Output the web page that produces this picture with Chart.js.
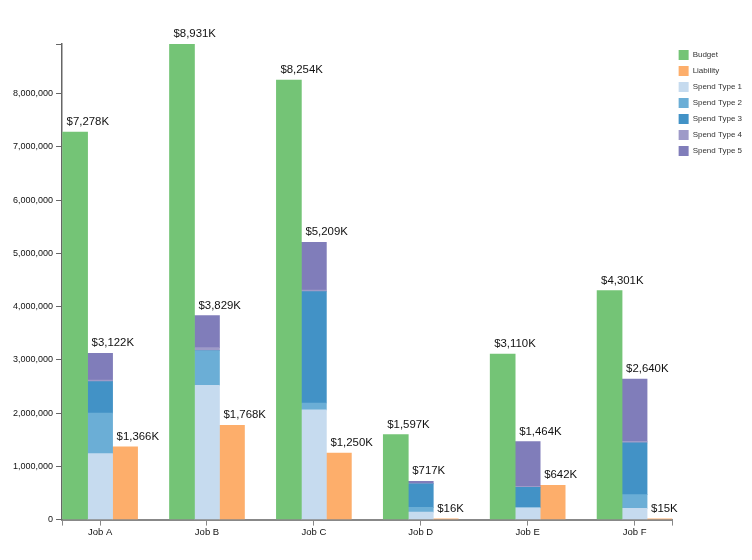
<!DOCTYPE html>
<html><head><meta charset="utf-8">
<script src="https://cdn.jsdelivr.net/npm/chart.js@4.4.1/dist/chart.umd.min.js"></script>
<style>html,body{margin:0;padding:0;background:#fff}#wrap{width:752px;height:560px}</style>
</head><body><div id="wrap"><canvas id="c" width="752" height="560"></canvas></div>
<script>
const categories = ['Job A', 'Job B', 'Job C', 'Job D', 'Job E', 'Job F'];
const budget     = [7278000, 8931000, 8254000, 1597000, 3110000, 4301000];
const liability  = [1366000, 1768000, 1250000, 16000, 642000, 15000];
const spendType1 = [1240000, 2520000, 2060000, 140000, 220000, 210000];
const spendType2 = [760000, 650000, 130000, 90000, 5000, 260000];
const spendType3 = [590000, 0, 2090000, 440000, 380000, 970000];
const spendType4 = [30000, 60000, 30000, 10000, 20000, 30000];
const spendType5 = [502000, 599000, 899000, 37000, 839000, 1170000];
const yTickValues = [0, 1000000, 2000000, 3000000, 4000000, 5000000, 6000000, 7000000, 8000000];

const FONT = '"Liberation Sans", Arial, sans-serif';
const yMax = Math.max(...budget);
const xMin = -0.356, xMax = categories.length - 1 + 0.356;

const pts = arr => arr.map((v, i) => ({x: i, y: v}));
const spendSets = [
  ['Spend Type 1', spendType1, '#c6dbef'],
  ['Spend Type 2', spendType2, '#6baed6'],
  ['Spend Type 3', spendType3, '#4292c6'],
  ['Spend Type 4', spendType4, '#9e9ac8'],
  ['Spend Type 5', spendType5, '#807dba']
];
const datasets = [
  {label: 'Budget', data: pts(budget), backgroundColor: '#74c476', stack: 'budget'},
  ...spendSets.map(s => ({label: s[0], data: pts(s[1]), backgroundColor: s[2], stack: 'spend'})),
  {label: 'Liability', data: pts(liability), backgroundColor: '#fdae6b', stack: 'liability'}
];
datasets.forEach(d => { d.borderWidth = 0; });
const legendRank = [0, 2, 3, 4, 5, 6, 1];

const fmt = v => '$' + Math.round(v / 1000).toLocaleString('en-US') + 'K';

const valueLabels = {
  id: 'valueLabels',
  afterDatasetsDraw(chart) {
    const ctx = chart.ctx;
    ctx.save();
    ctx.font = '11.4px ' + FONT;
    ctx.fillStyle = '#111';
    ctx.textAlign = 'left';
    ctx.textBaseline = 'alphabetic';
    const put = (el, v) => ctx.fillText(fmt(v), el.x - el.width / 2 + 4, Math.min(el.y, el.base) - 7);
    const nB = 0, nS = 5, nL = 6;
    categories.forEach((c, i) => {
      put(chart.getDatasetMeta(nB).data[i], budget[i]);
      const total = spendType1[i] + spendType2[i] + spendType3[i] + spendType4[i] + spendType5[i];
      put(chart.getDatasetMeta(nS).data[i], total);
      put(chart.getDatasetMeta(nL).data[i], liability[i]);
    });
    ctx.restore();
  }
};

new Chart(document.getElementById('c'), {
  type: 'bar',
  data: {datasets},
  plugins: [valueLabels],
  options: {
    responsive: false,
    animation: false,
    devicePixelRatio: 1,
    barThickness: 25,
    layout: {padding: {left: 10, top: 44, right: 0, bottom: 21}},
    plugins: {
      tooltip: {enabled: false},
      legend: {
        position: 'right',
        align: 'start',
        labels: {
          boxWidth: 10, boxHeight: 10, padding: 6,
          color: '#333',
          font: {size: 8, family: FONT},
          sort: (a, b) => legendRank[a.datasetIndex] - legendRank[b.datasetIndex]
        }
      }
    },
    scales: {
      x: {
        type: 'linear',
        min: xMin, max: xMax,
        offset: false,
        afterBuildTicks: s => { s.ticks = [{value: xMin}, ...categories.map((c, i) => ({value: i})), {value: xMax}]; },
        ticks: {
          autoSkip: false, maxRotation: 0, padding: 1,
          color: '#111', font: {size: 9.5, family: FONT},
          callback: v => Number.isInteger(v) ? categories[v] : ''
        },
        grid: {drawOnChartArea: false, drawTicks: true, tickLength: 6, color: '#888', offset: false},
        border: {display: true, color: '#888', width: 2}
      },
      y: {
        stacked: true,
        min: 0, max: yMax,
        afterBuildTicks: s => { s.ticks = [...yTickValues.map(v => ({value: v})), {value: yMax}]; },
        ticks: {
          padding: 3,
          color: '#111', font: {size: 9, family: FONT},
          callback: v => yTickValues.includes(v) ? v.toLocaleString('en-US') : ''
        },
        grid: {drawOnChartArea: false, drawTicks: true, tickLength: 6, color: '#666'},
        border: {display: true, color: '#666', width: 1.5}
      }
    }
  }
});
</script>
</body></html>
